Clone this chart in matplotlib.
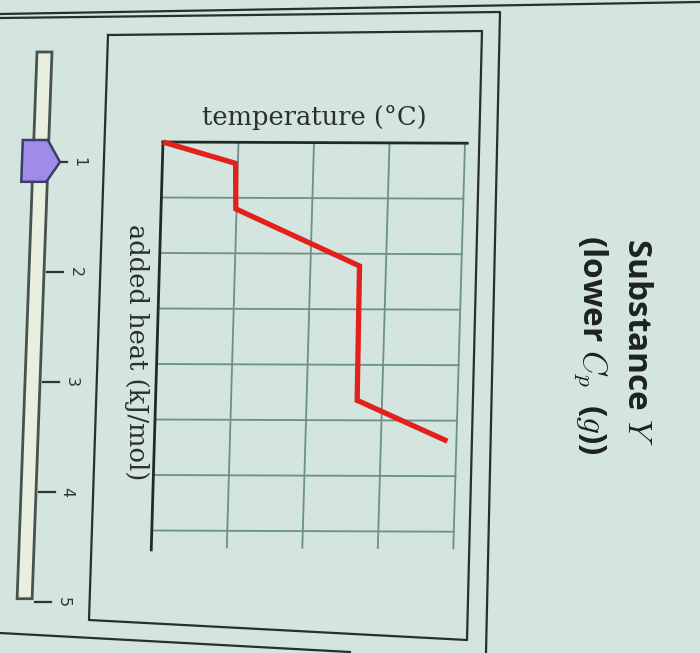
"""Heating curve for substance Y, redrawn as it appears in the rotated screen photo."""
import matplotlib

matplotlib.use("Agg")
import matplotlib.pyplot as plt
from matplotlib.patches import Polygon
from matplotlib.transforms import Affine2D

plt.rcParams["mathtext.fontset"] = "cm"

# curve, in grid cells (temperature across, added heat down)
temperature = [0.0, 0.97, 0.99, 2.65, 2.67, 3.88]
added_heat = [0.0, 0.38, 1.20, 2.22, 4.64, 5.37]
temp_grid = [1, 2, 3, 4]
heat_grid = [1, 2, 3, 4, 5, 6, 7]
temp_max = 4.0
heat_max = 7.3

# slider under the chart
slider_values = [1, 2, 3, 4, 5]
slider_labels = ["1", "2", "3", "4", "5"]
slider_pos = 1

W, H = 700, 653
fig = plt.figure(figsize=(W / 100, H / 100), dpi=100)
fig.patch.set_facecolor("#d4e4de")
ax = fig.add_axes([0, 0, 1, 1])
ax.set_xlim(0, W)
ax.set_ylim(H, 0)
ax.axis("off")

# the photo is taken slightly skewed, so the chart gets its own affine map
chart = Affine2D.from_values(75.5, 0.3, -1.6, 55.5, 163, 142) + ax.transData
grid_kw = dict(color="#6b918a", lw=1.3, transform=chart, zorder=2)
for t in temp_grid:
    ax.plot([t, t], [0, heat_max], **grid_kw)
for h in heat_grid:
    ax.plot([0, temp_max], [h, h], **grid_kw)
ax.plot([0, temp_max + 0.03], [0, 0], color="#1f2b2b", lw=2.0, transform=chart, zorder=3)
ax.plot([0, 0], [0, heat_max + 0.05], color="#1f2b2b", lw=2.0, transform=chart, zorder=3)
ax.plot(temperature, added_heat, color="#e3201b", lw=3.8, transform=chart,
        solid_joinstyle="miter", solid_capstyle="butt", zorder=4)

ax.text(2.0, -0.45, "temperature (°C)", transform=chart, ha="center", va="center",
        family="DejaVu Serif", fontsize=18.5, color="#2a2f30")
ax.text(-0.27, 3.78, "added heat (kJ/mol)", transform=chart, ha="center", va="center",
        rotation=-90, family="DejaVu Serif", fontsize=18.5, color="#2a2f30")

# frames around the panel
frame_kw = dict(color="#27302f", lw=1.6, zorder=1)
ax.plot([108, 482, 467, 89, 108], [35, 31, 640, 620, 35], **frame_kw)
ax.plot([0, 500, 486], [18, 12, 653], **frame_kw)
ax.plot([0, 700], [14, 2], **frame_kw)
ax.plot([0, 350], [633, 652], **frame_kw)

# slider: w = pixel offset from the track's right edge, s = slider value
slider = Affine2D.from_values(1, 0, -4, 110.0, 52, 52) + ax.transData
track = Polygon([(-15, 0), (0, 0), (0, 4.97), (-15, 4.97)], closed=True,
                transform=slider, facecolor="#e9efdf", edgecolor="#46524f", lw=2.0, zorder=2)
ax.add_patch(track)
for v, lab in zip(slider_values, slider_labels):
    ax.plot([3, 19], [v, v], color="#2f3535", lw=1.6, transform=slider, zorder=2)
    ax.text(31, v, lab, transform=slider, ha="center", va="center", rotation=-90,
            family="DejaVu Sans", fontsize=11.5, color="#2f3535")
s = slider_pos
thumb = Polygon([(-26, s - 0.2), (-1, s - 0.2), (12, s), (-1, s + 0.18), (-26, s + 0.18)],
                closed=True, transform=slider, facecolor="#a08ce8", edgecolor="#3b3d6b",
                lw=1.8, zorder=5)
ax.add_patch(thumb)

# title on the right
ax.text(637, 342, r"Substance $Y$", ha="center", va="center", rotation=-90,
        family="Open Sans", weight="bold", fontsize=24, color="#1c2222")
ax.text(591, 345, r"(lower $C_p$  ($g$))", ha="center", va="center", rotation=-90,
        family="Open Sans", weight="bold", fontsize=24, color="#1c2222")

fig.savefig("out.png", dpi=100, facecolor=fig.get_facecolor())
